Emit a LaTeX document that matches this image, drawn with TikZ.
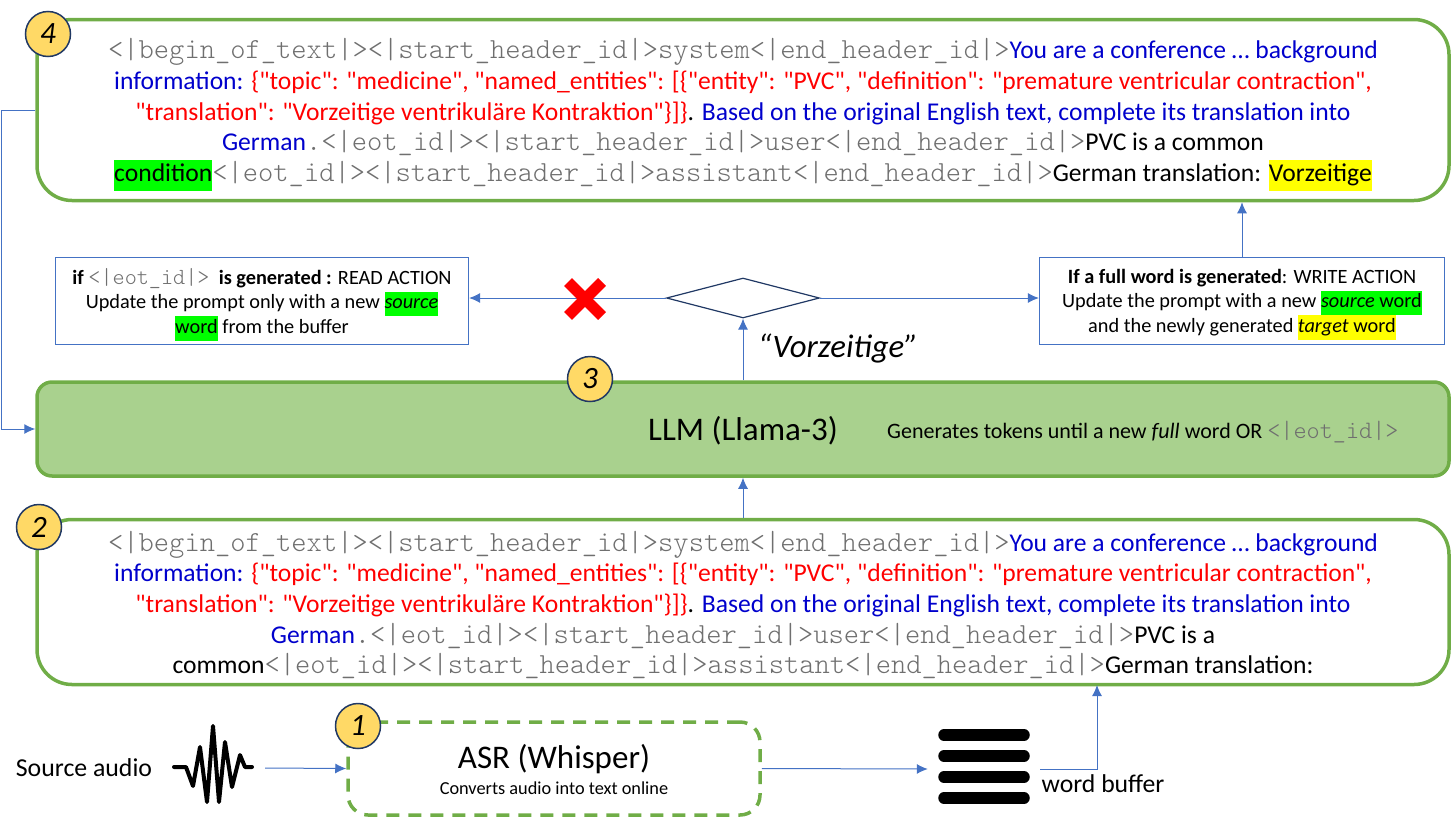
\documentclass[tikz,border=0pt]{standalone}
\usepackage{fontspec}
\setmainfont[Ligatures=TeXOff]{Carlito}
\setmonofont[Scale=1.137]{Latin Modern Mono Light}
\usetikzlibrary{arrows.meta,shapes.geometric}

\definecolor{framegreen}{HTML}{70AD47}
\definecolor{llmgreen}{HTML}{A9D18E}
\definecolor{flowblue}{HTML}{4472C4}
\definecolor{navyline}{HTML}{203864}
\definecolor{badgegold}{HTML}{FFD966}
\definecolor{tokgray}{HTML}{6F6F6F}
\definecolor{sysblue}{HTML}{0000CC}
\definecolor{hlgreen}{HTML}{00FF00}
\definecolor{hlyellow}{HTML}{FFFF00}

\newcommand{\tok}[1]{{\color{tokgray}\ttfamily #1}}
\newcommand{\hilite}[2]{{\setlength{\fboxsep}{0pt}\colorbox{#1}{\strut #2}}}
\newcommand{\sys}[1]{{\color{sysblue}#1}}
\newcommand{\ctx}[1]{{\color{red}#1}}

\tikzset{
    prompt/.style={draw=framegreen, line width=3.5, rounded corners=35, minimum width=1412},
    prompttext/.style={align=center, inner sep=0, font=\fontsize{25.6}{30.7}\selectfont},
    action/.style={draw=flowblue, line width=1.2, minimum width=413, minimum height=87},
    actiontext/.style={align=center, inner sep=0, font=\fontsize{20.3}{24.5}\selectfont},
    badge/.style={circle, draw=navyline, line width=1.5, fill=badgegold, minimum size=45, inner sep=0,
        font=\fontsize{31}{31}\selectfont\itshape},
    flow/.style={draw=flowblue, line width=1, -{Latex[length=11,width=10]}},
}

\begin{document}
\begin{tikzpicture}[x=1pt, y=-1pt]
    \useasboundingbox (0,0) rectangle (1453,825);

    % prompt after the write action
    \node (box4) [prompt, minimum height=181] at (743,110) {};
    \node (box4text) [prompttext] at (743,114.5) {%
        \tok{<|begin\_of\_text|><|start\_header\_id|>system<|end\_header\_id|>}\sys{You are a conference … background}\\
        \sys{information:} \ctx{\{"topic": "medicine", "named\_entities": [\{"entity": "PVC", "definition": "premature ventricular contraction",}\\
        \ctx{"translation": "Vorzeitige ventrikuläre Kontraktion"\}]\}}. \sys{Based on the original English text, complete its translation into}\\
        \sys{German}\tok{.<|eot\_id|><|start\_header\_id|>user<|end\_header\_id|>}PVC is a common\\
        \hilite{hlgreen}{condition}\tok{<|eot\_id|><|start\_header\_id|>assistant<|end\_header\_id|>}German translation: \hilite{hlyellow}{Vorzeitige}};

    % prompt before the LLM
    \node (box2) [prompt, minimum height=165] at (743,602) {};
    \node (box2text) [prompttext] at (743,605) {%
        \tok{<|begin\_of\_text|><|start\_header\_id|>system<|end\_header\_id|>}\sys{You are a conference … background}\\
        \sys{information:} \ctx{\{"topic": "medicine", "named\_entities": [\{"entity": "PVC", "definition": "premature ventricular contraction",}\\
        \ctx{"translation": "Vorzeitige ventrikuläre Kontraktion"\}]\}}. \sys{Based on the original English text, complete its translation into}\\
        \sys{German}\tok{.<|eot\_id|><|start\_header\_id|>user<|end\_header\_id|>}PVC is a\\
        common\tok{<|eot\_id|><|start\_header\_id|>assistant<|end\_header\_id|>}German translation:};

    \node (llm) [draw=framegreen, fill=llmgreen, line width=3.5, rounded corners=15, minimum width=1412,
        minimum height=94] at (743,429) {};
    \node (llmname) [font=\fontsize{33}{33}\selectfont, inner sep=0] at (743,431) {LLM (Llama-3)};
    \node (gen) [font=\fontsize{22}{24}\selectfont, anchor=west, inner sep=0] at (887,432)
        {Generates tokens until a new \textit{full} word OR \tok{<|eot\_id|>}};

    \node (read) [action] at (262,301) {};
    \node (readtext) [actiontext] at (262,304.5) {%
        \textbf{if} \tok{<|eot\_id|>} \textbf{ is generated :} READ ACTION\\
        Update the prompt only with a new \hilite{hlgreen}{\textit{source}}\\
        \hilite{hlgreen}{word} from the buffer};
    \node (write) [action, minimum width=405] at (1242,301) {};
    \node (writetext) [actiontext] at (1242,304.5) {%
        \textbf{If a full word is generated}: WRITE ACTION\\
        Update the prompt with a new \hilite{hlgreen}{\textit{source} word}\\
        and the newly generated \hilite{hlyellow}{\textit{target} word}};

    \node (choice) [diamond, draw=navyline, line width=1.2, aspect=3.8, minimum width=153, minimum height=40, inner sep=0] at (743,298) {};
    \node (said) [font=\fontsize{32.8}{33}\selectfont\itshape, inner sep=0] at (838,348) {“Vorzeitige”};

    % ASR row
    \node (src) [font=\fontsize{25.8}{26}\selectfont, inner sep=0] at (84,768) {Source audio};
    \node (wave) [minimum width=93, minimum height=78, inner sep=0] at (218.5,768) {};
    \node (asr) [draw=framegreen, line width=3.5, dash pattern=on 13 off 9, rounded corners=20, minimum width=412,
        minimum height=93, inner sep=0] at (554,768.5) {};
    \node (asrname) [font=\fontsize{33}{33}\selectfont, inner sep=0] at (554,759) {ASR (Whisper)};
    \node (asrnote) [font=\fontsize{18.3}{20}\selectfont, inner sep=0] at (554,788) {Converts audio into text online};
    \node (buffer) [minimum width=112, minimum height=80, inner sep=0] at (984,769) {};
    \node (buffername) [font=\fontsize{25.7}{26}\selectfont, inner sep=0] at (1103,784) {word buffer};
    \coordinate (entry) at (1097,685);

    % waveform and buffer bars
    \draw [line width=4, line join=round, line cap=round] (174,767) -- (186,767) -- (193,786) -- (200,747) -- (207,802)
        -- (213,726) -- (219,802) -- (225,742) -- (232,787) -- (240,755) -- (245,767) -- (252,767);
    \foreach \ypos in {735,756,777,798} {
        \draw [line width=11.5, line cap=round] (944,\ypos) -- (1024,\ypos);
    }

    % connectors
    \draw [flow] (wave.east) -- (asr.west);
    \draw [flow] (asr.east) -- (buffer.west);
    \draw [flow] (buffer.east) -| (entry);
    \draw [flow] (box2.north) -- (llm.south);
    \draw [flow] (llm.north) -- (choice.south);
    \draw [flow] (choice.west) -- (choice.west -| read.east);
    \draw [flow] (choice.east) -- (choice.east -| write.west);
    \draw [flow] (write.north) -- (write.north |- box4.south);
    \draw [flow] (box4.west) -- ++(-34,0) |- (llm.west);

    % rejected branch
    \draw [red, line width=11] (568,282) -- (602,316);
    \draw [red, line width=11] (602,282) -- (568,316);

    % step numbers
    \node (step1) [badge] at (358,726) {1};
    \node (step2) [badge] at (39,527) {2};
    \node (step3) [badge] at (590,379) {3};
    \node (step4) [badge] at (48,34) {4};
\end{tikzpicture}
\end{document}
